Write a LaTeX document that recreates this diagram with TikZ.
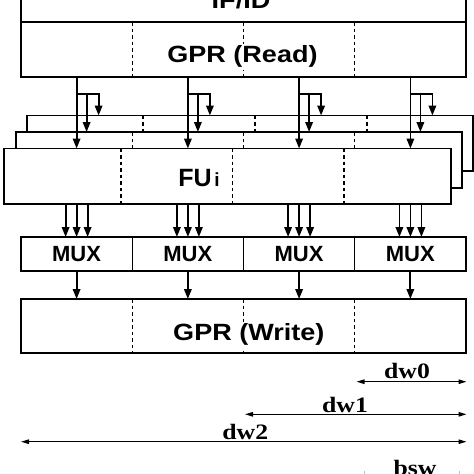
\documentclass[tikz,border=0pt]{standalone}
\usepackage{fontspec}
\setmainfont{Liberation Serif}
\setsansfont{Liberation Sans}
\usetikzlibrary{arrows.meta, calc, positioning}

\begin{document}
\begin{tikzpicture}[x=1pt, y=-1pt,
  box/.style={draw, line width=1.2pt, fill=white, inner sep=0pt, outer sep=0pt},
  divider/.style={line width=1.3pt, dash pattern=on 3.5pt off 3pt},
  arr/.style={line width=1.8pt, -{Triangle[length=10pt, width=7.5pt]}},
  dim/.style={line width=1.2pt, {Triangle[length=8pt, width=4.5pt]}-{Triangle[length=8pt, width=4.5pt]}},
  lbl/.style={font=\sffamily\bfseries\fontsize{23.5}{23.5}\selectfont, xscale=1.15, anchor=base, fill=white, inner sep=2pt},
  dimlbl/.style={font=\rmfamily\bfseries\fontsize{22}{22}\selectfont, xscale=1.17, anchor=base, inner sep=0pt}]
  \useasboundingbox (0,0) rectangle (474,474);
  \clip (0,0) rectangle (474,474);

  % pipeline register and register file (read side)
  \node[box, minimum width=445pt, minimum height=42pt] (ifid) at (243.5,1) {};
  \node[lbl] (ifidtxt) at (241,8) {IF/ID};
  \node[box, minimum width=445pt, minimum height=55pt] (gprr) at (243.5,49.5) {};
  \foreach \x in {132.25,243.5,354.75}
    \draw[divider] (\x,22) -- (\x,77);
  \node[lbl] (gprrtxt) at (242.5,62.7) {GPR (Read)};

  % stacked functional units
  \node[box, minimum width=446pt, minimum height=55.5pt] (fub) at (250,143.25) {};
  \foreach \x in {143,255,367}
    \draw[divider] (\x,115.5) -- (\x,171);
  \node[box, minimum width=446pt, minimum height=56pt] (fum) at (239,160) {};
  \foreach \x in {132.25,243.5,354.75}
    \draw[divider] (\x,132) -- (\x,188);
  \node[box, minimum width=447pt, minimum height=55.5pt] (fu) at (227.5,176.25) {};
  \foreach \x in {121,232.7,344}
    \draw[divider] (\x,148.5) -- (\x,204);
  \node[font=\sffamily\bfseries\fontsize{25}{25}\selectfont, anchor=base, inner sep=0pt] (futxt) at (199,186.7) {FU\kern2.5pt{\fontsize{19}{19}\selectfont i}};

  % multiplexers
  \node[box, minimum width=111.25pt, minimum height=34pt, font=\sffamily\bfseries\fontsize{22}{22}\selectfont] (mux1) at (76.6,254) {MUX};
  \node[box, minimum width=111.25pt, minimum height=34pt, font=\sffamily\bfseries\fontsize{22}{22}\selectfont, right=0pt of mux1] (mux2) {MUX};
  \node[box, minimum width=111.25pt, minimum height=34pt, font=\sffamily\bfseries\fontsize{22}{22}\selectfont, right=0pt of mux2] (mux3) {MUX};
  \node[box, minimum width=111.25pt, minimum height=34pt, font=\sffamily\bfseries\fontsize{22}{22}\selectfont, right=0pt of mux3] (mux4) {MUX};

  % register file (write side)
  \node[box, minimum width=445pt, minimum height=54pt] (gprw) at (243.5,326) {};
  \foreach \x in {132.25,243.5,354.75}
    \draw[divider] (\x,299) -- (\x,353);
  \node[lbl] (gprwtxt) at (248.8,340.7) {GPR (Write)};

  % data paths
  \foreach \i/\x in {1/76.6, 2/187.9, 3/299.1, 4/410.4} {
    \coordinate (col\i) at (\x,0);
    \draw[arr] (col\i |- gprr.south) -- (col\i |- fu.north);
    \draw[arr] ($(col\i |- gprr.south)+(0,17)$) -| ($(col\i |- fub.north)+(22,0)$);
    \draw[arr] ($(col\i |- gprr.south)+(10,17)$) -- ($(col\i |- fum.north)+(10,0)$);
    \foreach \d in {-11,0,11}
      \draw[arr] ($(col\i |- fu.south)+(\d,0)$) -- ($(col\i |- mux\i.north)+(\d,0)$);
    \draw[arr] (mux\i.south) -- (mux\i.south |- gprw.north);
  }

  % widths
  \coordinate (dw0l) at (356.5,381.7);
  \coordinate (dw1l) at (245,414.3);
  \coordinate (dw2l) at (21,441.7);
  \coordinate (dw0r) at (466.5,381.7);
  \coordinate (dw1r) at (466.5,414.3);
  \coordinate (dw2r) at (466.5,441.7);
  \draw[dim] (dw0l) -- (dw0r);
  \draw[dim] (dw1l) -- (dw1r);
  \draw[dim] (dw2l) -- (dw2r);
  \node[dimlbl] (dw0) at (407,378.3) {dw0};
  \node[dimlbl] (dw1) at (345,412.7) {dw1};
  \node[dimlbl] (dw2) at (245.3,439.3) {dw2};
  \node[dimlbl] (bsw) at (415,475) {bsw};
  \draw[gray!50, line width=0.8pt] (364,471) -- (364,474);
  \draw[gray!50, line width=0.8pt] (459,471) -- (459,474);
\end{tikzpicture}
\end{document}
